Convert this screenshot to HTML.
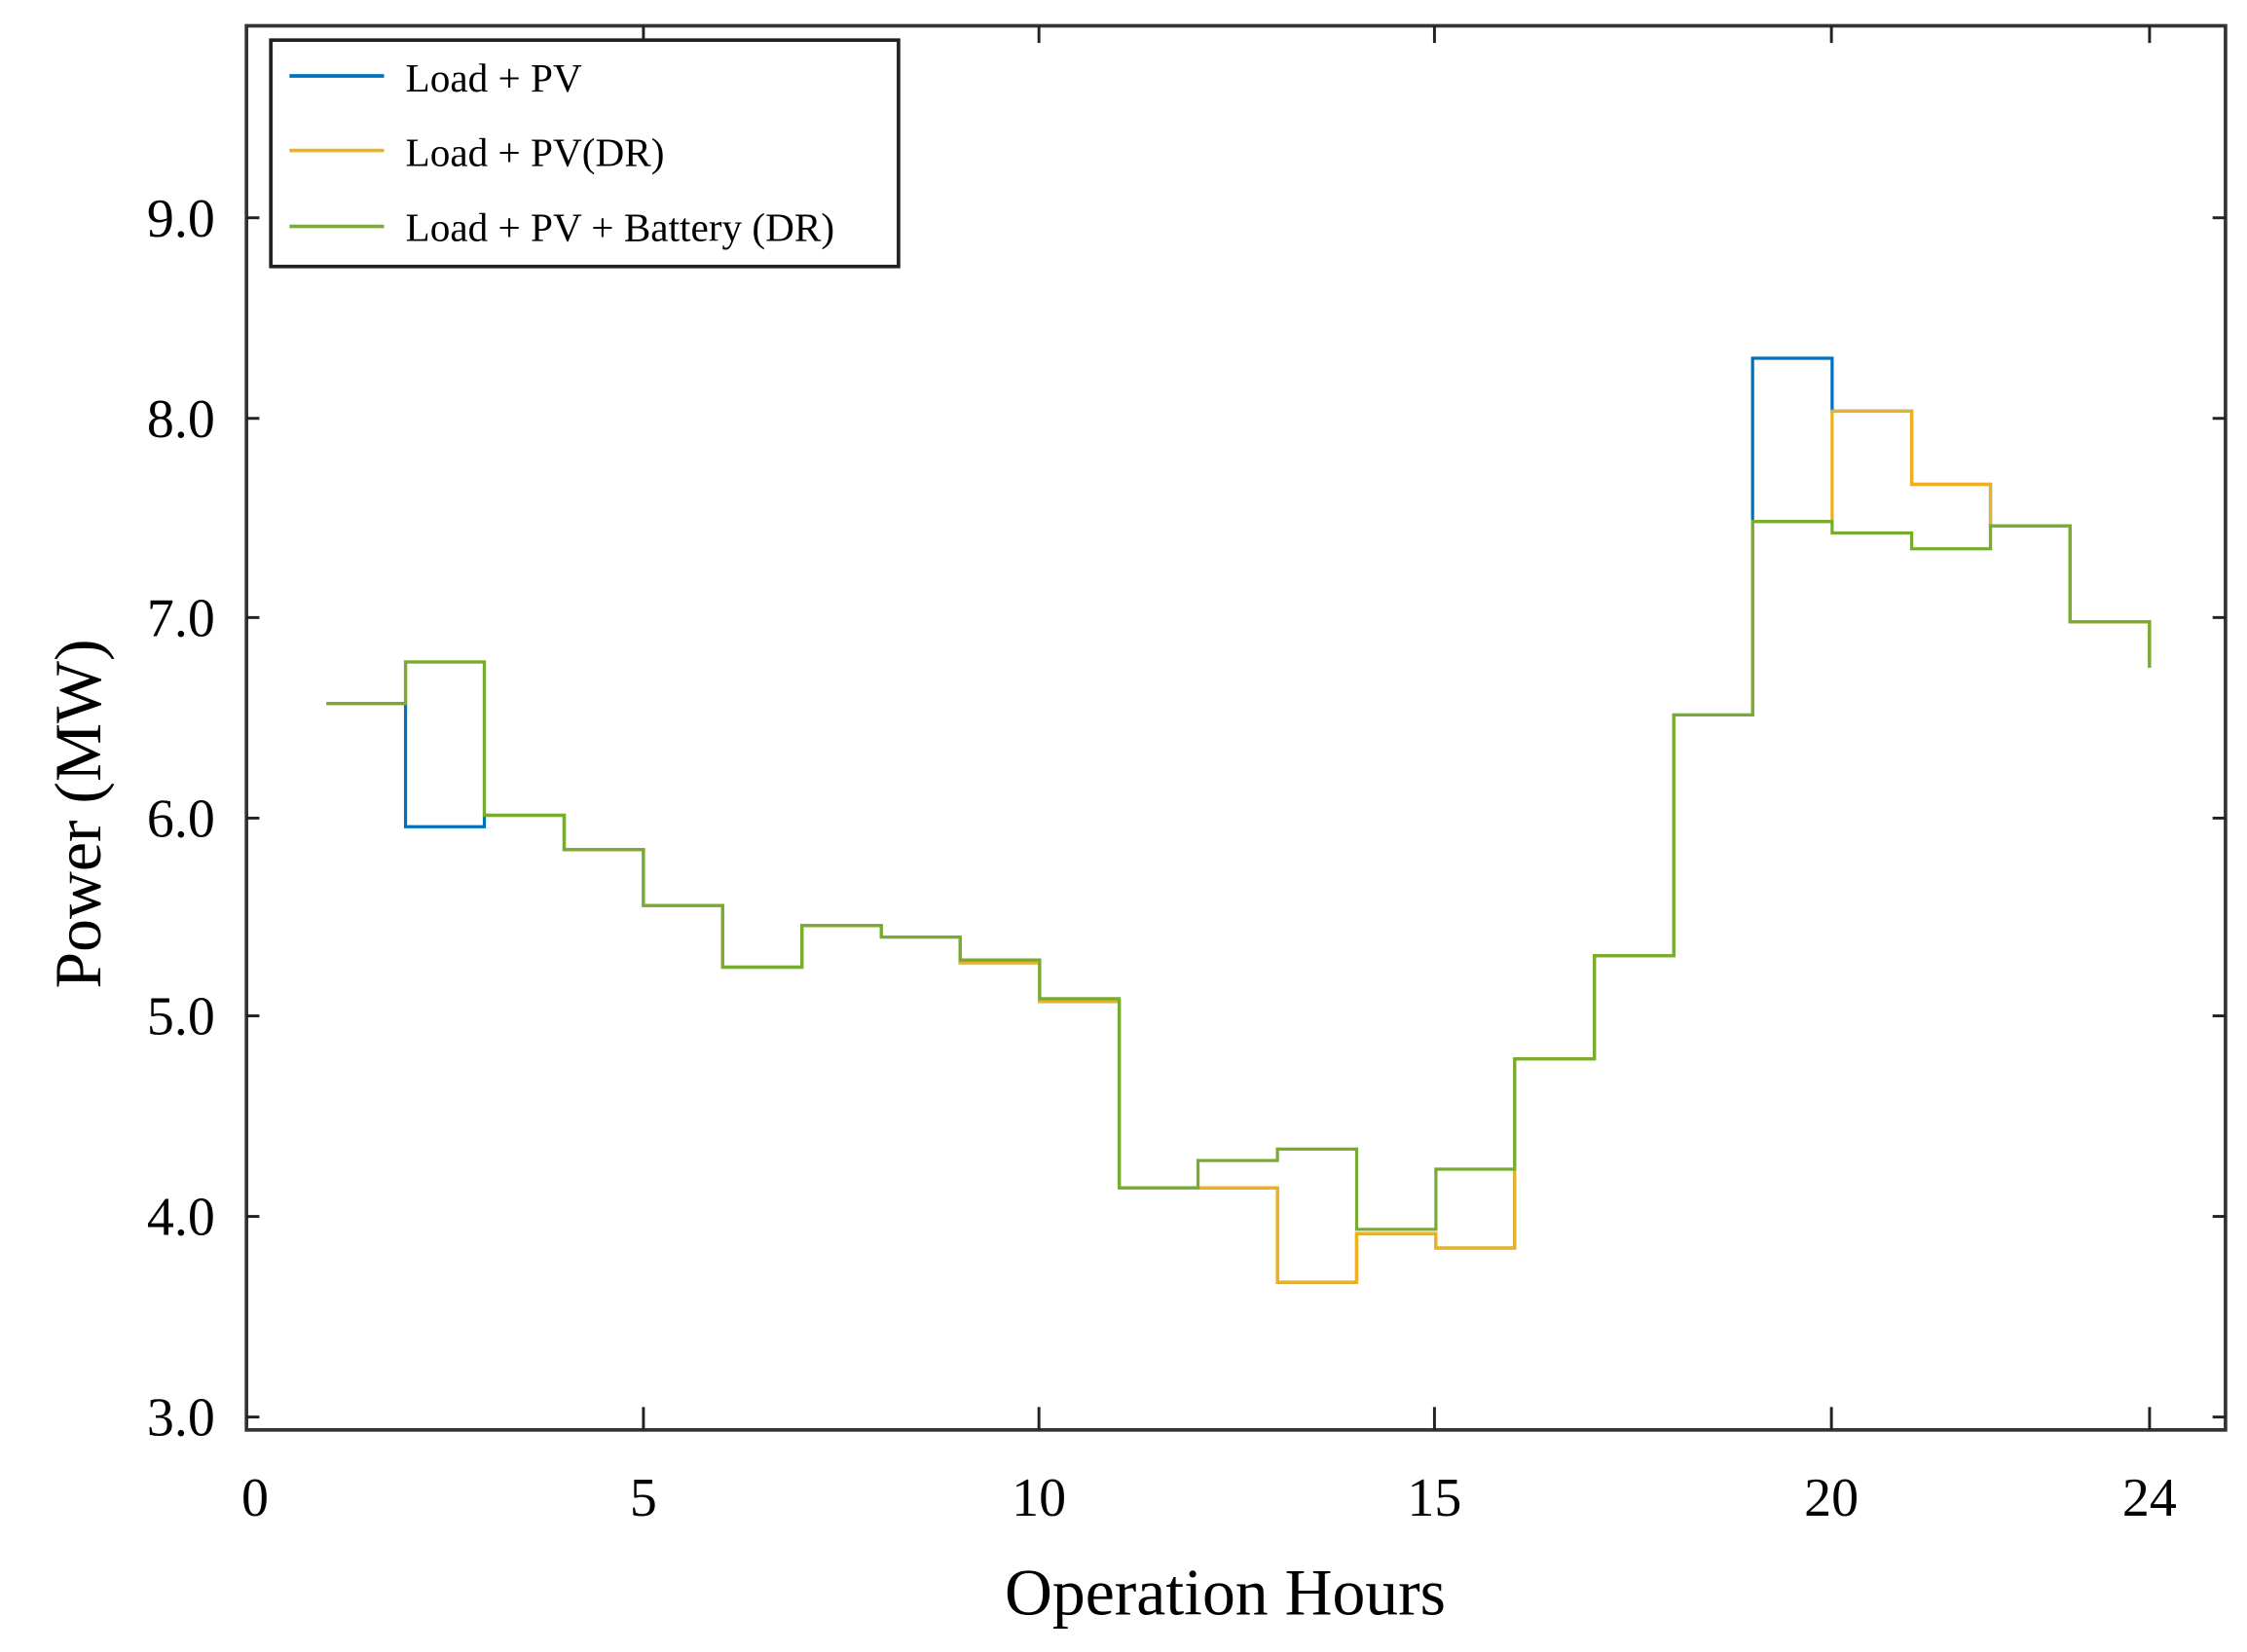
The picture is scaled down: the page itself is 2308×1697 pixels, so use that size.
<!DOCTYPE html>
<html><head><meta charset="utf-8"><style>
html,body{margin:0;padding:0;background:#fff;}
svg{display:block;}
text{font-family:"Liberation Serif",serif;fill:#000;}
</style></head><body>
<svg width="2308" height="1697" viewBox="0 0 1568 1153" preserveAspectRatio="none" xmlns="http://www.w3.org/2000/svg">
<rect x="0" y="0" width="1568" height="1153" fill="#fff"/>
<!-- series -->
<path fill="none" stroke="#0072BD" stroke-width="2.2" d="M227.8 491 H283 V577 H338 V569 H393.7 V593 H449 V632 H504.3 V675 H559.6 V646 H615 V654 H670 V672 H725.5 V699 H781 V829 H891.4 V895 H946.7 V861 H1002 V871 H1057 V739 H1112.6 V667 H1168 V499 H1223 V250 H1278.5 V287 H1334 V338 H1389 V367 H1444.5 V434 H1500 V466"/>
<path fill="none" stroke="#EDB120" stroke-width="2.2" d="M227.8 491 H283 V462 H338 V569 H393.7 V593 H449 V632 H504.3 V675 H559.6 V646 H615 V654 H670 V672 H725.5 V699 H781 V829 H891.4 V895 H946.7 V861 H1002 V871 H1057 V739 H1112.6 V667 H1168 V499 H1223 V364 H1278.5 V287 H1334 V338 H1389 V383 V367 H1444.5 V434 H1500 V466"/>
<path fill="none" stroke="#77AC30" stroke-width="2.2" d="M227.8 491 H283 V462 H338 V569 H393.7 V593 H449 V632 H504.3 V675 H559.6 V646 H615 V654 H670 V670 H725.5 V697 H781 V829 H836 V810 H891.4 V802 H946.7 V858 H1002 V816 H1057 V739 H1112.6 V667 H1168 V499 H1223 V364 H1278.5 V372 H1334 V383 H1389 V367 H1444.5 V434 H1500 V466"/>
<!-- axes box -->
<rect x="172" y="18" width="1381" height="980" fill="none" stroke="#333" stroke-width="2.5"/>
<g stroke="#222" stroke-width="2">
<line x1="172" y1="152" x2="181" y2="152"/><line x1="172" y1="292" x2="181" y2="292"/>
<line x1="172" y1="431" x2="181" y2="431"/><line x1="172" y1="571" x2="181" y2="571"/>
<line x1="172" y1="709" x2="181" y2="709"/><line x1="172" y1="849" x2="181" y2="849"/>
<line x1="172" y1="989" x2="181" y2="989"/>
<line x1="1553" y1="152" x2="1544" y2="152"/><line x1="1553" y1="292" x2="1544" y2="292"/>
<line x1="1553" y1="431" x2="1544" y2="431"/><line x1="1553" y1="571" x2="1544" y2="571"/>
<line x1="1553" y1="709" x2="1544" y2="709"/><line x1="1553" y1="849" x2="1544" y2="849"/>
<line x1="1553" y1="989" x2="1544" y2="989"/>
<line x1="449" y1="998" x2="449" y2="982"/><line x1="725" y1="998" x2="725" y2="982"/>
<line x1="1001" y1="998" x2="1001" y2="982"/><line x1="1278" y1="998" x2="1278" y2="982"/>
<line x1="1500" y1="998" x2="1500" y2="982"/>
<line x1="449" y1="18" x2="449" y2="30"/><line x1="725" y1="18" x2="725" y2="30"/>
<line x1="1001" y1="18" x2="1001" y2="30"/><line x1="1278" y1="18" x2="1278" y2="30"/>
<line x1="1500" y1="18" x2="1500" y2="30"/>
</g>
<!-- y tick labels -->
<g font-size="38" text-anchor="end">
<text x="150" y="165">9.0</text><text x="150" y="305">8.0</text><text x="150" y="444">7.0</text>
<text x="150" y="584">6.0</text><text x="150" y="722">5.0</text><text x="150" y="862">4.0</text>
<text x="150" y="1002">3.0</text>
</g>
<g font-size="38" text-anchor="middle">
<text x="178" y="1058">0</text><text x="449" y="1058">5</text><text x="725" y="1058">10</text>
<text x="1001" y="1058">15</text><text x="1278" y="1058">20</text><text x="1500" y="1058">24</text>
</g>
<text x="855" y="1127" font-size="46" text-anchor="middle">Operation Hours</text>
<text transform="translate(70,568) rotate(-90)" font-size="46" text-anchor="middle">Power (MW)</text>
<!-- legend -->
<rect x="189" y="28" width="438" height="158" fill="#fff" stroke="#222" stroke-width="2.5"/>
<line x1="202" y1="53" x2="268" y2="53" stroke="#0072BD" stroke-width="2.5"/>
<line x1="202" y1="105" x2="268" y2="105" stroke="#EDB120" stroke-width="2.5"/>
<line x1="202" y1="158" x2="268" y2="158" stroke="#77AC30" stroke-width="2.5"/>
<g font-size="28" style="fill:#333">
<text x="283" y="64" fill="#333">Load + PV</text>
<text x="283" y="116" fill="#333">Load + PV(DR)</text>
<text x="283" y="168" fill="#333">Load + PV + Battery (DR)</text>
</g>
</svg>
</body></html>
